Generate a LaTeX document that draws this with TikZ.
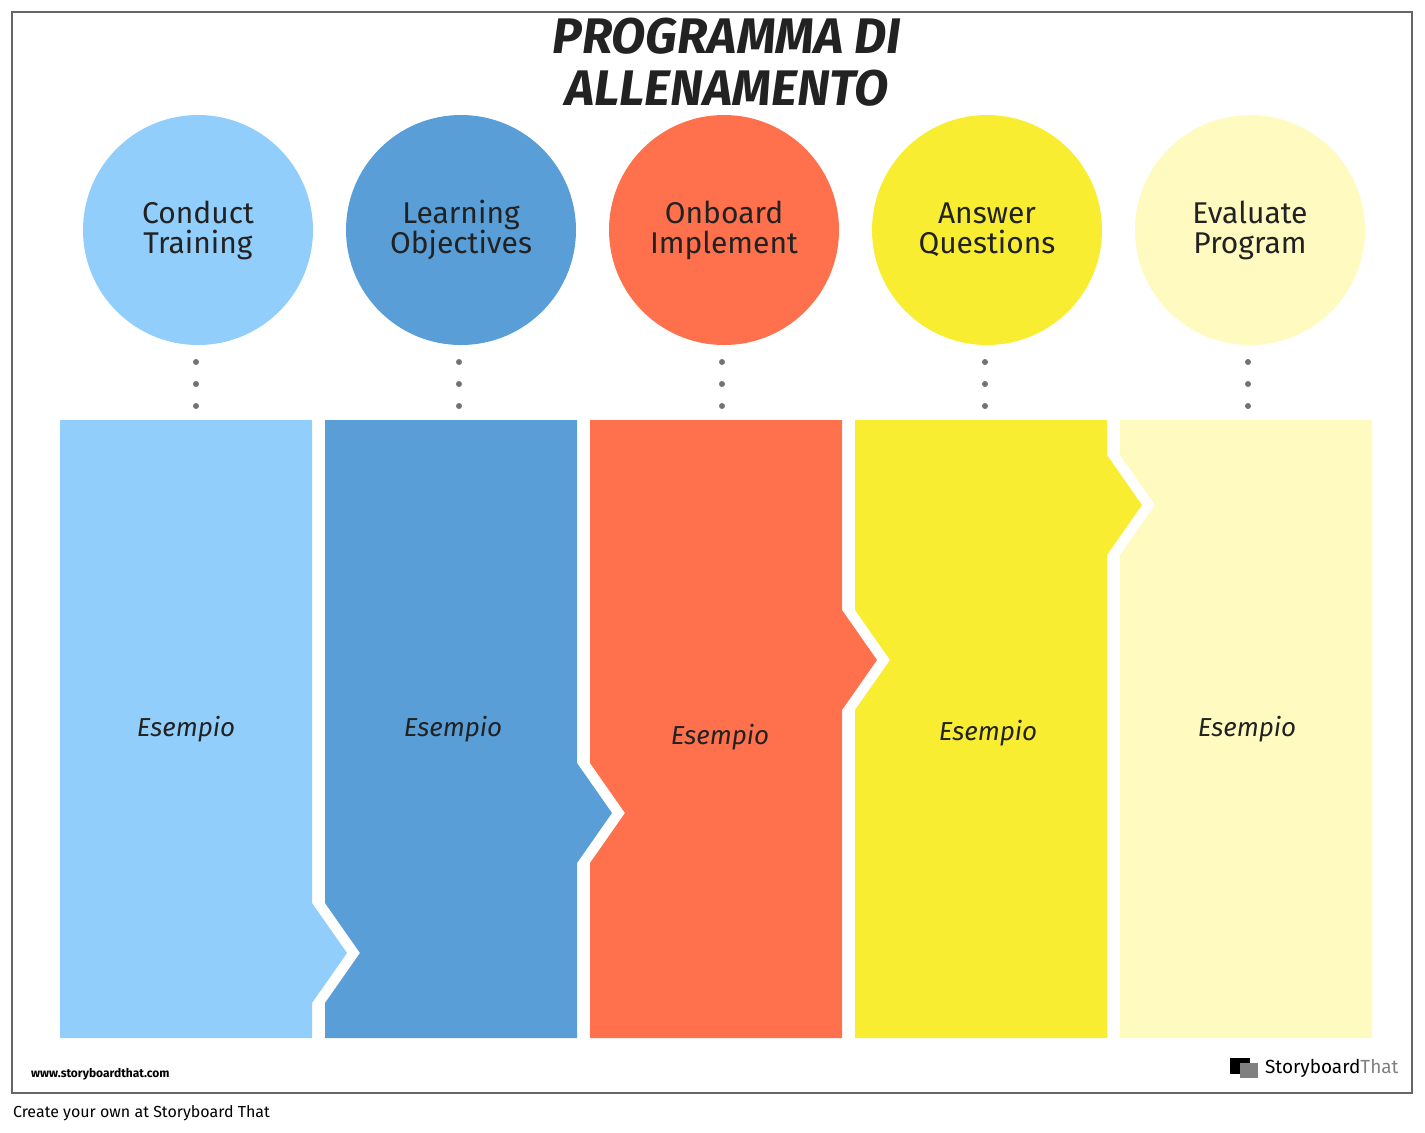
\documentclass[tikz,border=0pt]{standalone}
\usepackage{fontspec}
\setmainfont{Fira Sans}
\begin{document}
\begin{tikzpicture}[x=0.5pt,y=-0.5pt]
\definecolor{cA}{RGB}{145,206,252}
\definecolor{cB}{RGB}{89,158,215}
\definecolor{cC}{RGB}{255,112,77}
\definecolor{cD}{RGB}{249,237,50}
\definecolor{cE}{RGB}{255,250,192}
\definecolor{txt}{RGB}{34,34,34}
\tikzset{circ/.style={circle,minimum size=115pt,inner sep=0pt,align=center,font=\fontsize{15}{15}\selectfont,text=txt},
 ex/.style={font=\fontsize{13}{13}\selectfont\itshape,text=txt},
 dot/.style={circle,fill=gray!90!black,inner sep=0pt,minimum size=3pt}}
\useasboundingbox (0,0) rectangle (1425,1132);
\draw[gray!80!black,line width=1pt] (12,12) rectangle (1412,1093);
\node[font=\fontsize{25}{26}\selectfont\itshape\bfseries,text=txt,align=center] (title) at (727,62) {PROGRAMMA DI\\ALLENAMENTO};
% panels
\fill[cA] (60,420) -- (312,420) -- (312,903) -- (347,953) -- (312,1003) -- (312,1038) -- (60,1038) -- cycle;
\fill[cB] (325,420) -- (577,420) -- (577,763) -- (612,813) -- (577,863) -- (577,1038) -- (325,1038) -- (325,1003) -- (360,953) -- (325,903) -- cycle;
\fill[cC] (590,420) -- (842,420) -- (842,610) -- (877,660) -- (842,710) -- (842,1038) -- (590,1038) -- (590,863) -- (625,813) -- (590,763) -- cycle;
\fill[cD] (855,420) -- (1107,420) -- (1107,455) -- (1142,505) -- (1107,555) -- (1107,1038) -- (855,1038) -- (855,710) -- (890,660) -- (855,610) -- cycle;
\fill[cE] (1120,420) -- (1372,420) -- (1372,1038) -- (1120,1038) -- (1120,555) -- (1155,505) -- (1120,455) -- cycle;
\node[ex] (e1) at (186,729) {Esempio};
\node[ex] (e2) at (453,729) {Esempio};
\node[ex] (e3) at (720,737) {Esempio};
\node[ex] (e4) at (988,733) {Esempio};
\node[ex] (e5) at (1247,729) {Esempio};
% circles
\node[circ,fill=cA] (c1) at (198,230) {Conduct\\Training};
\node[circ,fill=cB] (c2) at (461,230) {Learning\\Objectives};
\node[circ,fill=cC] (c3) at (724,230) {Onboard\\Implement};
\node[circ,fill=cD] (c4) at (987,230) {Answer\\Questions};
\node[circ,fill=cE] (c5) at (1250,230) {Evaluate\\Program};
\foreach \x in {196,459,722,985,1248}{
 \foreach \y in {362,384,406} \node[dot] at (\x,\y) {};}
\node[anchor=west,font=\fontsize{6}{6}\selectfont\bfseries] (w) at (24,1074) {www.storyboardthat.com};
\node[anchor=west,font=\fontsize{8}{8}\selectfont] (cr) at (6,1113) {Create your own at Storyboard That};
\fill[black] (1230,1058) rectangle (1250,1074);
\fill[gray] (1240,1063) rectangle (1258,1078);
\node[anchor=west,font=\fontsize{9.5}{9.5}\selectfont] (logo) at (1258,1068) {Storyboard\textcolor{gray}{That}};
\end{tikzpicture}
\end{document}
